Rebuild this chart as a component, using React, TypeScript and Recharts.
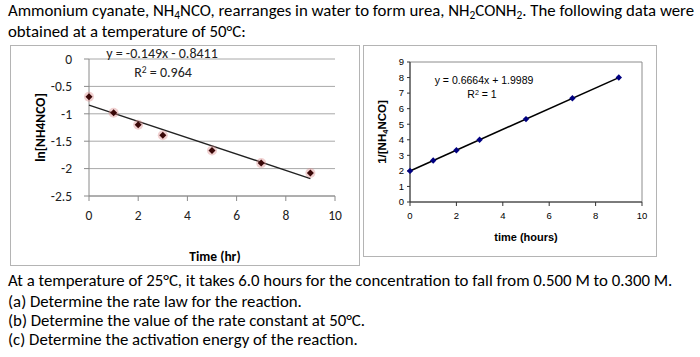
import React from "react";
import {
  ScatterChart,
  Scatter,
  XAxis,
  YAxis,
  CartesianGrid,
  ReferenceArea,
  Label,
} from "recharts";

// time points (hours) shared by both plots
const times = [0, 1, 2, 3, 5, 7, 9];
// ln[NH4NCO]
const lnConc = [-0.69, -0.98, -1.2, -1.39, -1.67, -1.9, -2.08];
// 1/[NH4NCO]
const invConc = [2.0, 2.67, 3.33, 4.0, 5.33, 6.67, 8.0];

// trendline ends (x = 0 and x = 9)
const trendX = [0, 9];
const lnTrend = [-0.8411, -2.1821];
const invTrend = [1.9989, 7.9965];

const timeTicks = [0, 2, 4, 6, 8, 10];
const lnTicks = [-2.5, -2, -1.5, -1, -0.5, 0];
const invTicks = [0, 1, 2, 3, 4, 5, 6, 7, 8, 9];

const calibri = "Carlito, Lato, 'Open Sans', sans-serif";
const arial = "'Liberation Sans', Arial, sans-serif";

const lnPoints = times.map((t, i) => ({ x: t, y: lnConc[i] }));
const invPoints = times.map((t, i) => ({ x: t, y: invConc[i] }));
const lnLine = trendX.map((t, i) => ({ x: t, y: lnTrend[i] }));
const invLine = trendX.map((t, i) => ({ x: t, y: invTrend[i] }));

const RedDiamond = (p: any) => {
  const { cx, cy } = p;
  const r = 3.5;
  return (
    <g>
      <circle cx={cx} cy={cy} r={5} fill="#d98a8a" opacity={0.4} />
      <polygon
        points={`${cx},${cy - r} ${cx + r},${cy} ${cx},${cy + r} ${cx - r},${cy}`}
        fill="#3a0808"
      />
    </g>
  );
};

const NavyDiamond = (p: any) => {
  const { cx, cy } = p;
  const r = 3.2;
  return (
    <polygon
      points={`${cx},${cy - r} ${cx + r},${cy} ${cx},${cy + r} ${cx - r},${cy}`}
      fill="#000080"
    />
  );
};

const NoDot = () => <g />;

const InvYLabel = (p: any) => {
  const vb = p.viewBox || { x: 0, y: 0, width: 0, height: 0 };
  const cx = vb.x + 19;
  const cy = vb.y + vb.height / 2;
  return (
    <text
      x={cx}
      y={cy}
      transform={`rotate(-90 ${cx} ${cy})`}
      textAnchor="middle"
      dominantBaseline="central"
      fontFamily={arial}
      fontWeight={700}
      fontSize={11.5}
      fill="#000"
    >
      1/[NH<tspan fontSize={7.5} dy={3}>4</tspan>
      <tspan dy={-3}>NCO]</tspan>
    </text>
  );
};

const abs = (left: number, top: number): React.CSSProperties => ({
  position: "absolute",
  left,
  top,
  whiteSpace: "nowrap",
});

const sub: React.CSSProperties = { fontSize: "0.68em", verticalAlign: "-0.25em", lineHeight: 0 };
const sup: React.CSSProperties = { fontSize: "0.68em", verticalAlign: "0.45em", lineHeight: 0 };

export default function App() {
  const bodyText: React.CSSProperties = {
    fontFamily: calibri,
    fontSize: 16.8,
    lineHeight: "17px",
    color: "#000",
  };

  return (
    <div
      style={{
        position: "fixed",
        left: 0,
        top: 0,
        width: 700,
        height: 357,
        background: "#fff",
        overflow: "hidden",
      }}
    >
      <div style={{ ...abs(8, 2), ...bodyText }}>
        Ammonium cyanate, NH<span style={sub}>4</span>NCO, rearranges in water to form urea, NH
        <span style={sub}>2</span>CONH<span style={sub}>2</span>. The following data were
      </div>
      <div style={{ ...abs(8, 23), ...bodyText }}>obtained at a temperature of 50°C:</div>

      {/* left plot: ln[NH4NCO] vs time */}
      <div style={{ ...abs(10, 45), width: 350, height: 221, border: "1.5px solid #b4b4b4", boxSizing: "border-box" }} />
      <div style={abs(10, 45)}>
        <ScatterChart width={350} height={221} margin={{ top: 14, right: 25, bottom: 40, left: 0 }}>
          <CartesianGrid vertical={false} stroke="#a8a8a8" />
          <XAxis
            type="number"
            dataKey="x"
            domain={[0, 10]}
            ticks={timeTicks}
            height={30}
            stroke="#8a8a8a"
            tickSize={5}
            tickMargin={9}
            tick={{ fill: "#222", fontSize: 13.5, fontFamily: calibri }}
          >
            <Label
              value="Time (hr)"
              position="bottom"
              offset={25}
              dx={3}
              style={{ fontWeight: 700, fontSize: 13.5, fill: "#000", fontFamily: calibri }}
            />
          </XAxis>
          <YAxis
            type="number"
            dataKey="y"
            domain={[-2.5, 0]}
            ticks={lnTicks}
            width={79}
            stroke="#8a8a8a"
            tickSize={5}
            tickMargin={12}
            tick={{ fill: "#222", fontSize: 13.5, fontFamily: calibri }}
          >
            <Label
              value="ln[NH4NCO]"
              angle={-90}
              position="insideLeft"
              offset={30}
              style={{ textAnchor: "middle", fontWeight: 700, fontSize: 13.5, fill: "#000", fontFamily: calibri }}
            />
          </YAxis>
          <Scatter
            data={lnLine}
            line={{ stroke: "#222", strokeWidth: 1.4 }}
            shape={NoDot}
            isAnimationActive={false}
          />
          <Scatter data={lnPoints} shape={RedDiamond} isAnimationActive={false} />
        </ScatterChart>
      </div>
      <div style={{ ...abs(162, 46), transform: "translateX(-50%)", fontFamily: calibri, fontSize: 14, lineHeight: "16px", color: "#222" }}>
        y = -0.149x - 0.8411
      </div>
      <div style={{ ...abs(163, 65), transform: "translateX(-50%)", fontFamily: calibri, fontSize: 14, lineHeight: "16px", color: "#222" }}>
        R<span style={sup}>2</span> = 0.964
      </div>

      {/* right plot: 1/[NH4NCO] vs time */}
      <div style={{ ...abs(363, 45), width: 294, height: 212, border: "1.5px solid #b4b4b4", boxSizing: "border-box" }} />
      <div style={abs(363, 45)}>
        <ScatterChart width={294} height={212} margin={{ top: 17, right: 15, bottom: 30, left: 0 }}>
          <ReferenceArea x1={0} x2={10} y1={0} y2={9} fill="none" stroke="#8c8c8c" strokeWidth={1} />
          <XAxis
            type="number"
            dataKey="x"
            domain={[0, 10]}
            ticks={timeTicks}
            height={25}
            stroke="#333"
            tickSize={4}
            tickMargin={6}
            tick={{ fill: "#000", fontSize: 9.5, fontFamily: arial }}
          >
            <Label
              value="time (hours)"
              position="bottom"
              offset={6}
              style={{ fontWeight: 700, fontSize: 11, fill: "#000", fontFamily: arial }}
            />
          </XAxis>
          <YAxis
            type="number"
            dataKey="y"
            domain={[0, 9]}
            ticks={invTicks}
            interval={0}
            width={47}
            stroke="#333"
            tickSize={3}
            tickMargin={3}
            tick={{ fill: "#000", fontSize: 9.5, fontFamily: arial }}
          >
            <Label content={InvYLabel} />
          </YAxis>
          <Scatter
            data={invLine}
            line={{ stroke: "#000", strokeWidth: 1.6 }}
            shape={NoDot}
            isAnimationActive={false}
          />
          <Scatter data={invPoints} shape={NavyDiamond} isAnimationActive={false} />
        </ScatterChart>
      </div>
      <div style={{ ...abs(484, 74), transform: "translateX(-50%)", fontFamily: arial, fontSize: 10.5, color: "#000" }}>
        y = 0.6664x + 1.9989
      </div>
      <div style={{ ...abs(482, 88), transform: "translateX(-50%)", fontFamily: arial, fontSize: 10.5, color: "#000" }}>
        R<span style={sup}>2</span> = 1
      </div>

      <div style={{ ...abs(8, 272), ...bodyText }}>
        At a temperature of 25°C, it takes 6.0 hours for the concentration to fall from 0.500 M to 0.300 M.
      </div>
      <div style={{ ...abs(8, 293), ...bodyText }}>(a) Determine the rate law for the reaction.</div>
      <div style={{ ...abs(8, 312), ...bodyText }}>(b) Determine the value of the rate constant at 50°C.</div>
      <div style={{ ...abs(8, 331), ...bodyText }}>(c) Determine the activation energy of the reaction.</div>
    </div>
  );
}
